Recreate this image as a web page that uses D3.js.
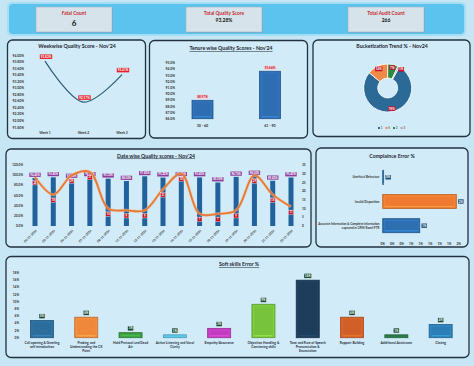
<!DOCTYPE html>
<html>
<head>
<meta charset="utf-8">
<script src="https://cdn.jsdelivr.net/npm/d3@7"></script>
<style>
  body { margin: 0; background: #c6e5f5; }
  text { font-family: "Lato", "Open Sans", sans-serif; }
</style>
</head>
<body>
<div id="chart"></div>
<script>
// ---- data ----
const kpiTitles = ["Fatal Count", "Total Quality Score", "Total Audit Count"];
const kpiValues = ["6", "93.28%", "266"];

const weeks = ["Week 1", "Week 2", "Week 3"];
const weekScores = [93.82, 92.57, 93.41];
const weekTicks = [91.8, 92.0, 92.2, 92.4, 92.6, 92.8, 93.0, 93.2, 93.4, 93.6, 93.8, 94.0];

const tenures = ["30 - 60", "61 - 90"];
const tenureScores = [88.97, 93.66];
const tenureTicks = [86, 87, 88, 89, 90, 91, 92, 93, 94, 95];

const buckets = ["1", "5", "2", "3"];
const bucketShares = [78, 14, 7, 1];

const dates = ["04-11-2024", "05-11-2024", "06-11-2024", "07-11-2024", "08-11-2024",
  "11-11-2024", "12-11-2024", "13-11-2024", "14-11-2024", "15-11-2024",
  "18-11-2024", "19-11-2024", "20-11-2024", "21-11-2024", "22-11-2024"];
const dateScores = [94.4, 95.8, 92.5, 95.7, 93.1, 88.5, 97.8, 95.2, 95.9, 95.6, 85.5, 96.7, 98.5, 89.0, 95.4];
const dateAudits = [28, 18, 29, 31, 10, 9, 9, 21, 30, 7, 7, 9, 29, 18, 11];
const scoreTicks = [0, 20, 40, 60, 80, 100, 120];
const auditTicks = [0, 5, 10, 15, 20, 25, 30, 35];

const complianceCats = [
  ["Unethical Behaviour"],
  ["Invalid Disposition"],
  ["Accurate Information & Complete information", "captured in CRM/Excel/FTR"]
];
const complianceErr = [0.02, 1.55, 0.78];
const complianceTicks = [0, 0.2, 0.4, 0.6, 0.8, 1.0, 1.2, 1.4, 1.6];

const skills = [
  ["Call opening & Greeting", "self introduction"],
  ["Probing and", "Understanding the CX", "Point"],
  ["Hold Protocol and Dead", "Air"],
  ["Active Listening and Vocal", "Clarity"],
  ["Empathy/Assurance"],
  ["Objection Handling &", "Convincing skills"],
  ["Tone and Rate of Speech", "Pronunciation &", "Enunciation"],
  ["Rapport Building"],
  ["Additional Assistance"],
  ["Closing"]
];
const skillErr = [4.8, 5.7, 1.4, 0.8, 2.6, 9.3, 16, 5.7, 0.8, 3.7];
const skillTicks = [0, 2, 4, 6, 8, 10, 12, 14, 16, 18];
const skillColors = ["#2d6d9c", "#f0883c", "#3a993f", "#5cc9ea", "#c23cbf",
  "#77c43c", "#1e3d5a", "#d35f28", "#2b7c4a", "#2c7fb6"];

// ---- helpers ----
const svg = d3.select("#chart").append("svg")
  .attr("width", 474).attr("height", 366);

svg.append("rect").attr("width", 474).attr("height", 366).attr("fill", "#c6e5f5");

function panel(x, y, w, h) {
  svg.append("rect")
    .attr("x", x).attr("y", y).attr("width", w).attr("height", h)
    .attr("rx", 5)
    .attr("fill", "#d2ebf8")
    .attr("stroke", "#22323e")
    .attr("stroke-width", 1.3);
}

function title(x, y, txt, underline) {
  const t = svg.append("text")
    .attr("x", x).attr("y", y)
    .attr("text-anchor", "middle")
    .attr("font-size", 5.2)
    .attr("font-weight", "bold")
    .attr("fill", "#1b2631")
    .text(txt);
  if (underline) t.attr("text-decoration", "underline");
}

function labelBox(g, x, y, txt, fill, color, fs) {
  const w = txt.length * fs * 0.55 + 2.2, h = fs + 1.4;
  g.append("rect")
    .attr("x", x - w / 2).attr("y", y - h / 2)
    .attr("width", w).attr("height", h)
    .attr("fill", fill);
  g.append("text")
    .attr("x", x).attr("y", y + fs * 0.36)
    .attr("text-anchor", "middle")
    .attr("font-size", fs)
    .attr("font-weight", "bold")
    .attr("fill", color)
    .text(txt);
  return w;
}

function bevelBar(g, x, y, w, h, color) {
  const c = d3.color(color);
  g.append("rect")
    .attr("x", x).attr("y", y).attr("width", w).attr("height", h)
    .attr("fill", color)
    .attr("stroke", c.darker(0.7))
    .attr("stroke-width", 0.8);
  if (w > 4 && h > 4) {
    g.append("rect")
      .attr("x", x + 1.6).attr("y", y + 1.6)
      .attr("width", w - 3.2).attr("height", h - 3.2)
      .attr("fill", "none")
      .attr("stroke", c.brighter(0.8))
      .attr("stroke-opacity", 0.45)
      .attr("stroke-width", 0.6);
  }
  if (w > 4 && h > 3) {
    g.append("line")
      .attr("x1", x + 2.5).attr("x2", x + w - 2.5)
      .attr("y1", y + h - 2).attr("y2", y + h - 2)
      .attr("stroke", c.brighter(1.2))
      .attr("stroke-opacity", 0.7)
      .attr("stroke-width", 0.7);
  }
}

// ---- banner & KPIs ----
svg.append("rect").attr("x", 7).attr("y", 2).attr("width", 459).attr("height", 34)
  .attr("rx", 5).attr("fill", "#a3def4");
svg.append("rect").attr("x", 9).attr("y", 4).attr("width", 455).attr("height", 30)
  .attr("rx", 4).attr("fill", "#5bc3ee");

const kpiX = [36, 186, 348];
kpiTitles.forEach((t, i) => {
  svg.append("rect").attr("x", kpiX[i] + 0.8).attr("y", 7.8).attr("width", 76).attr("height", 25)
    .attr("fill", "#6f9fb8").attr("opacity", 0.6);
  svg.append("rect").attr("x", kpiX[i]).attr("y", 7).attr("width", 76).attr("height", 25)
    .attr("fill", "#d6e3ea").attr("stroke", "#a3b3bc").attr("stroke-width", 0.6);
  svg.append("text").attr("x", kpiX[i] + 38).attr("y", 15)
    .attr("text-anchor", "middle").attr("font-size", 4.8).attr("font-weight", "bold")
    .attr("fill", "#c62a30").text(t);
  svg.append("text").attr("x", kpiX[i] + 38).attr("y", i === 0 ? 25.5 : 22.2)
    .attr("text-anchor", "middle").attr("font-size", i === 0 ? 8 : 5)
    .attr("font-weight", "bold").attr("fill", "#111").text(kpiValues[i]);
});

// ---- panels ----
panel(7.5, 40, 138, 98.5);
panel(149.5, 40.5, 158, 97.5);
panel(313, 40, 157, 96.5);
panel(6, 149, 305, 98);
panel(316, 148, 152, 99);
panel(6, 256.5, 463, 101);

title(77, 48, "Weekwise Quality Score - Nov'24", false);
title(231, 50, "Tenure wise Quality Scores - Nov'24", true);
title(392, 48, "Bucketization Trend % - Nov24", false);
title(156, 157.5, "Date wise Quality scores - Nov'24", true);
title(392, 157.5, "Complaince Error %", false);
title(239, 266, "Soft skills Error %", true);

// ---- weekwise line ----
{
  const g = svg.append("g");
  const x = d3.scalePoint().domain(weeks).range([45, 122]);
  const y = d3.scaleLinear().domain([91.8, 94.0]).range([127.3, 55.3]);
  g.selectAll(".yt").data(weekTicks).join("text")
    .attr("x", 24).attr("y", d => y(d) + 1.2)
    .attr("text-anchor", "end").attr("font-size", 3.4).attr("font-weight", "bold")
    .attr("fill", "#333").text(d => d.toFixed(2) + "%");
  g.selectAll(".xt").data(weeks).join("text")
    .attr("x", d => x(d)).attr("y", 134)
    .attr("text-anchor", "middle").attr("font-size", 3.4).attr("font-weight", "bold")
    .attr("fill", "#333").text(d => d);
  const line = d3.line().x((d, i) => x(weeks[i])).y(d => y(d)).curve(d3.curveCatmullRom.alpha(0.5));
  g.append("path").attr("d", line(weekScores))
    .attr("fill", "none").attr("stroke", "#2c5d78").attr("stroke-width", 1.2);
  weekScores.forEach((v, i) => labelBox(g, x(weeks[i]) + 1, y(v) - 4.5, v.toFixed(2) + "%", "#e3202a", "#fff", 3.1));
}

// ---- tenure bars ----
{
  const g = svg.append("g");
  const x = d3.scalePoint().domain(tenures).range([202.5, 270]);
  const y = d3.scaleLinear().domain([86, 95]).range([118.7, 63]);
  const bw = 21;
  g.selectAll(".yt").data(tenureTicks).join("text")
    .attr("x", 175).attr("y", d => y(d) + 1.2)
    .attr("text-anchor", "end").attr("font-size", 3.4).attr("font-weight", "bold")
    .attr("fill", "#333").text(d => d.toFixed(1) + "%");
  tenures.forEach((t, i) => {
    bevelBar(g, x(t) - bw / 2, y(tenureScores[i]), bw, y(86) - y(tenureScores[i]), "#2f6db2");
    labelBox(g, x(t), y(tenureScores[i]) - 3.5, tenureScores[i].toFixed(2) + "%", "#f5d3da", "#c0142a", 3.1);
    g.append("text").attr("x", x(t)).attr("y", 126.5)
      .attr("text-anchor", "middle").attr("font-size", 3.6).attr("font-weight", "bold")
      .attr("fill", "#333").text(t);
  });
}

// ---- bucket donut ----
{
  const cx = 387.7, cy = 88;
  const g = svg.append("g").attr("transform", `translate(${cx},${cy})`);
  const colors = ["#2b6a96", "#f08a48", "#2e8a3f", "#a5a5a5"];
  const start = 28.8 * Math.PI / 180;
  const pie = d3.pie().sort(null).startAngle(start).endAngle(start + 2 * Math.PI);
  const arcs = pie(bucketShares);
  const arc = d3.arc().innerRadius(10).outerRadius(24);
  const lab = d3.arc().innerRadius(21).outerRadius(21);
  g.selectAll("path").data(arcs).join("path")
    .attr("d", arc).attr("fill", (d, i) => colors[i])
    .attr("stroke", "#fff").attr("stroke-width", 0.8);
  arcs.forEach((a, i) => {
    const [lx, ly] = lab.centroid(a);
    labelBox(g, i === 3 ? lx + 4 : lx, ly, bucketShares[i] + "%", "#c8102e", "#fff", 3.1);
  });
  const lg = svg.append("g").attr("transform", "translate(378,129)");
  buckets.forEach((b, i) => {
    lg.append("rect").attr("x", i * 7.5).attr("y", -2).attr("width", 2).attr("height", 2).attr("fill", colors[i]);
    lg.append("text").attr("x", i * 7.5 + 2.8).attr("y", 0)
      .attr("font-size", 3.2).attr("fill", "#333").text(b);
  });
}

// ---- date wise combo ----
{
  const g = svg.append("g");
  const x = d3.scalePoint().domain(dates).range([35, 291]);
  const yL = d3.scaleLinear().domain([0, 120]).range([226, 165]);
  const yR = d3.scaleLinear().domain([0, 35]).range([226, 165]);
  const bw = 5;
  g.selectAll(".yl").data(scoreTicks).join("text")
    .attr("x", 23).attr("y", d => yL(d) + 1.1)
    .attr("text-anchor", "end").attr("font-size", 3.2).attr("font-weight", "bold")
    .attr("fill", "#333").text(d => d.toFixed(1) + "%");
  g.selectAll(".yr").data(auditTicks).join("text")
    .attr("x", 302).attr("y", d => yR(d) + 1.1)
    .attr("text-anchor", "start").attr("font-size", 3.2).attr("font-weight", "bold")
    .attr("fill", "#333").text(d => d);
  g.selectAll(".bar").data(dateScores).join("rect")
    .attr("x", (d, i) => x(dates[i]) - bw / 2).attr("y", d => yL(d))
    .attr("width", bw).attr("height", d => yL(0) - yL(d))
    .attr("fill", "#22629c");
  g.selectAll(".xt").data(dates).join("text")
    .attr("transform", d => `translate(${x(d) + 2},${231}) rotate(-45)`)
    .attr("text-anchor", "end").attr("font-size", 3.1).attr("font-weight", "bold")
    .attr("fill", "#333").text(d => d);
  dateScores.forEach((v, i) => labelBox(g, x(dates[i]), yL(v) - 3.2, v.toFixed(2) + "%", "#8e3f9c", "#fff", 2.8));
  const line = d3.line().x((d, i) => x(dates[i])).y(d => yR(d)).curve(d3.curveCatmullRom.alpha(0.5));
  g.append("path").attr("d", line(dateAudits))
    .attr("fill", "none").attr("stroke", "#f6b98a").attr("stroke-width", 3).attr("stroke-opacity", 0.6);
  g.append("path").attr("d", line(dateAudits))
    .attr("fill", "none").attr("stroke", "#e67a36").attr("stroke-width", 1.8);
  dateAudits.forEach((v, i) => {
    const px = x(dates[i]), py = yR(v) + 5.5;
    g.append("rect").attr("x", px - 2.4).attr("y", py - 2.2).attr("width", 4.8).attr("height", 4.4)
      .attr("fill", "#c40f1f").attr("stroke", "#fff").attr("stroke-width", 0.4);
    g.append("text").attr("x", px).attr("y", py + 1)
      .attr("text-anchor", "middle").attr("font-size", 2.8).attr("font-weight", "bold")
      .attr("fill", "#fff").text(v);
  });
}

// ---- compliance horizontal bars ----
{
  const g = svg.append("g");
  const x = d3.scaleLinear().domain([0, 1.6]).range([382.7, 458.7]);
  const y = d3.scaleBand().domain(d3.range(complianceCats.length))
    .range([165.2, 237.8]).paddingInner(0.42).paddingOuter(0.21);
  const colors = ["#2e74b5", "#ef7b32", "#2e6fb2"];
  g.selectAll(".xt").data(complianceTicks).join("text")
    .attr("x", d => x(d)).attr("y", 244.5)
    .attr("text-anchor", "middle").attr("font-size", 3.2).attr("font-weight", "bold")
    .attr("fill", "#333").text(d => Math.round(d) + "%");
  complianceCats.forEach((lines, i) => {
    const cy = y(i) + y.bandwidth() / 2;
    lines.forEach((ln, j) => {
      g.append("text").attr("x", 379.5)
        .attr("y", cy + 1.1 + (j - (lines.length - 1) / 2) * 3.8)
        .attr("text-anchor", "end").attr("font-size", 3).attr("font-weight", "bold")
        .attr("fill", "#333").text(ln);
    });
    const w = x(complianceErr[i]) - x(0);
    bevelBar(g, x(0), y(i), w, y.bandwidth(), colors[i]);
    labelBox(g, x(complianceErr[i]) + 4.5, cy, Math.round(complianceErr[i]) + "%", "#1f4e79", "#fff", 3);
  });
}

// ---- soft skills bars ----
{
  const g = svg.append("g");
  const x = d3.scaleBand().domain(d3.range(skills.length))
    .range([19.8, 462.8]).paddingInner(0.48).paddingOuter(0.24);
  const y = d3.scaleLinear().domain([0, 18]).range([337.7, 273]);
  g.selectAll(".yt").data(skillTicks).join("text")
    .attr("x", 19).attr("y", d => y(d) + 1.1)
    .attr("text-anchor", "end").attr("font-size", 3.2).attr("font-weight", "bold")
    .attr("fill", "#333").text(d => d + "%");
  skills.forEach((lines, i) => {
    const bx = x(i), bw = x.bandwidth();
    const top = y(skillErr[i]);
    bevelBar(g, bx, top, bw, y(0) - top, skillColors[i]);
    labelBox(g, bx + bw / 2, top - 4.3, Math.round(skillErr[i]) + "%", "#1d4b31", "#fff", 3);
    lines.forEach((ln, j) => {
      g.append("text").attr("x", bx + bw / 2).attr("y", 343.5 + j * 4.2)
        .attr("text-anchor", "middle").attr("font-size", 3.3).attr("font-weight", "bold")
        .attr("fill", "#1f2d3a").text(ln);
    });
  });
}
</script>
</body>
</html>
